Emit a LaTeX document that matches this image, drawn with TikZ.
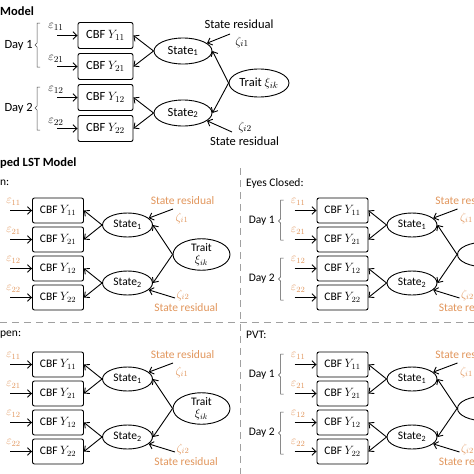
\documentclass[tikz,border=0pt]{standalone}
\usepackage{fontspec}
\setmainfont{Carlito}
\usetikzlibrary{arrows.meta,shapes.geometric}
\definecolor{resid}{RGB}{226,150,92}
\definecolor{sepgray}{RGB}{160,160,160}
\tikzset{
  fA/.style={font=\fontsize{12.5}{13}\selectfont},
  fB/.style={font=\fontsize{11.5}{12}\selectfont},
  cbfA/.style={draw, rounded corners=2pt, line width=0.9pt, minimum width=55pt, minimum height=26pt, inner sep=0pt, fA},
  cbfB/.style={draw, rounded corners=2pt, line width=0.9pt, minimum width=51pt, minimum height=25pt, inner sep=0pt, fB},
  latA/.style={draw, ellipse, line width=0.9pt, minimum width=58pt, minimum height=26pt, inner sep=0pt, fA},
  latB/.style={draw, ellipse, line width=0.9pt, minimum width=50pt, minimum height=24pt, inner sep=0pt, fB},
  arr/.style={-{Straight Barb[length=4pt,width=7.5pt,line width=0.9pt]}, line width=0.9pt},
  brk/.style={draw=black!70, line width=0.5pt},
  restxt/.style={text=resid, fB, inner sep=0pt},
  sepline/.style={draw=sepgray, line width=0.9pt, dash pattern=on 7pt off 5pt},
}
\newcommand\lstpanel[4]{%
 \begin{scope}[shift={(#2,#3)}]
  \node[cbfB] (#1y11) at (58,210.5) {CBF $Y_{11}$};
  \node[cbfB] (#1y21) at (58,239.5) {CBF $Y_{21}$};
  \node[cbfB] (#1y12) at (58,268.5) {CBF $Y_{12}$};
  \node[cbfB] (#1y22) at (58,297.5) {CBF $Y_{22}$};
  \node[restxt] (#1e11) at (13.5,202) {$\varepsilon_{11}$};
  \node[restxt] (#1e21) at (13.5,231) {$\varepsilon_{21}$};
  \node[restxt] (#1e12) at (13.5,260) {$\varepsilon_{12}$};
  \node[restxt] (#1e22) at (13.5,289) {$\varepsilon_{22}$};
  \coordinate (#1a11) at (10,210.5);
  \coordinate (#1a21) at (10,239.5);
  \coordinate (#1a12) at (10,268.5);
  \coordinate (#1a22) at (10,297.5);
  \node[latB] (#1s1) at (127.5,225) {State\textsubscript{1}};
  \node[latB] (#1s2) at (127.5,283) {State\textsubscript{2}};
  \node[draw, ellipse, line width=0.9pt, minimum width=57pt, minimum height=25pt, inner sep=0pt, fB, align=center] (#1tr) at (201.5,254.5) {#4};
  \node[restxt] (#1r1) at (182.5,201) {State residual};
  \node[restxt] (#1z1) at (182,218) {$\zeta_{i1}$};
  \coordinate (#1b1) at (173,209);
  \node[restxt] (#1z2) at (183,295) {$\zeta_{i2}$};
  \node[restxt] (#1r2) at (186,308) {State residual};
  \coordinate (#1b2) at (175,298);
  \draw[arr] (#1a11) -- (#1y11.west);
  \draw[arr] (#1a21) -- (#1y21.west);
  \draw[arr] (#1a12) -- (#1y12.west);
  \draw[arr] (#1a22) -- (#1y22.west);
  \draw[arr] (#1s1.west) -- (#1y11.east);
  \draw[arr] (#1s1.west) -- (#1y21.east);
  \draw[arr] (#1s2.west) -- (#1y12.east);
  \draw[arr] (#1s2.west) -- (#1y22.east);
  \draw[arr] (#1tr.west) -- (#1s1.east);
  \draw[arr] (#1tr.west) -- (#1s2.east);
  \draw[arr] (#1b1) -- (#1s1.18);
  \draw[arr] (#1b2) -- (#1s2.-18);
 \end{scope}}
\newcommand\daymarks[3]{%
 \begin{scope}[shift={(#2,#3)}]
  \node[fB, anchor=east, inner sep=0pt] (#1d1) at (-9.5,221) {Day 1};
  \node[fB, anchor=east, inner sep=0pt] (#1d2) at (-9.5,279) {Day 2};
  \draw[brk] (-1,200) -- (-4,200) -- (-4,219) -- (-6,221) -- (-4,223) -- (-4,240) -- (-1,240);
  \draw[brk] (-1,258) -- (-4,258) -- (-4,277) -- (-6,279) -- (-4,281) -- (-4,300) -- (-1,300);
 \end{scope}}
\begin{document}
\begin{tikzpicture}[x=1pt,y=-1pt]
\useasboundingbox (0,0) rectangle (474,474);
\clip (0,0) rectangle (474,474);
\fill[white] (0,0) rectangle (474,474);
% ---------- top model ----------
\node[font=\fontsize{12.5}{13}\selectfont\bfseries, anchor=west, inner sep=0pt] (titleA) at (0,11) {Model};
\node[cbfA] (y11) at (105.5,35.5) {CBF $Y_{11}$};
\node[cbfA] (y21) at (105.5,66.5) {CBF $Y_{21}$};
\node[cbfA] (y12) at (105.5,97.5) {CBF $Y_{12}$};
\node[cbfA] (y22) at (105.5,128.5) {CBF $Y_{22}$};
\node[fA, inner sep=0pt] (e11) at (56,27) {$\varepsilon_{11}$};
\node[fA, inner sep=0pt] (e21) at (56,59) {$\varepsilon_{21}$};
\node[fA, inner sep=0pt] (e12) at (56,90) {$\varepsilon_{12}$};
\node[fA, inner sep=0pt] (e22) at (56,122) {$\varepsilon_{22}$};
\coordinate (a11) at (57,35.5);
\coordinate (a21) at (57,66.5);
\coordinate (a12) at (57,97.5);
\coordinate (a22) at (57,128.5);
\node[latA] (s1) at (183,51) {State\textsubscript{1}};
\node[latA] (s2) at (183,113) {State\textsubscript{2}};
\node[latA, minimum width=60pt, minimum height=28pt] (tr) at (259,83) {Trait $\xi_{ik}$};
\node[fA, inner sep=0pt] (r1) at (239,24) {State residual};
\node[fA, inner sep=0pt] (z1) at (242,42) {$\zeta_{i1}$};
\coordinate (b1) at (230,34);
\node[fA, inner sep=0pt] (z2) at (245,127) {$\zeta_{i2}$};
\node[fA, inner sep=0pt] (r2) at (244.5,141) {State residual};
\coordinate (b2) at (232,132);
\node[fA, anchor=east, inner sep=0pt] (d1) at (33,45) {Day 1};
\node[fA, anchor=east, inner sep=0pt] (d2) at (33,108) {Day 2};
\draw[brk] (40,23) -- (37,23) -- (37,43) -- (35,45) -- (37,47) -- (37,67) -- (40,67);
\draw[brk] (40,87) -- (37,87) -- (37,106) -- (35,108) -- (37,110) -- (37,130) -- (40,130);
\draw[arr] (a11) -- (y11.west);
\draw[arr] (a21) -- (y21.west);
\draw[arr] (a12) -- (y12.west);
\draw[arr] (a22) -- (y22.west);
\draw[arr] (s1.west) -- (y11.east);
\draw[arr] (s1.west) -- (y21.east);
\draw[arr] (s2.west) -- (y12.east);
\draw[arr] (s2.west) -- (y22.east);
\draw[arr] (tr.west) -- (s1.east);
\draw[arr] (tr.west) -- (s2.east);
\draw[arr] (b1) -- (s1.18);
\draw[arr] (b2) -- (s2.-18);
% ---------- grouped model ----------
\node[font=\fontsize{12.5}{13}\selectfont\bfseries, anchor=west, inner sep=0pt] (titleB) at (0,163) {ped LST Model};
\node[fB, anchor=west, inner sep=0pt] (h1) at (0,183) {n:};
\node[fB, anchor=west, inner sep=0pt] (h2) at (246,183) {Eyes Closed:};
\node[fB, anchor=west, inner sep=0pt] (h3) at (0,335) {pen:};
\node[fB, anchor=west, inner sep=0pt] (h4) at (246,335) {PVT:};
\coordinate (v1) at (240,168);
\coordinate (v2) at (240,474);
\coordinate (hz1) at (0,322);
\coordinate (hz2) at (474,322);
\draw[sepline] (v1) -- (v2);
\draw[sepline] (hz1) -- (hz2);
\lstpanel{p}{0}{0}{Trait\\$\xi_{ik}$}
\lstpanel{q}{284.5}{0}{}
\lstpanel{u}{0}{154}{Trait\\$\xi_{ik}$}
\lstpanel{w}{284.5}{154}{}
\daymarks{q}{284.5}{0}
\daymarks{w}{284.5}{154}
\end{tikzpicture}
\end{document}
